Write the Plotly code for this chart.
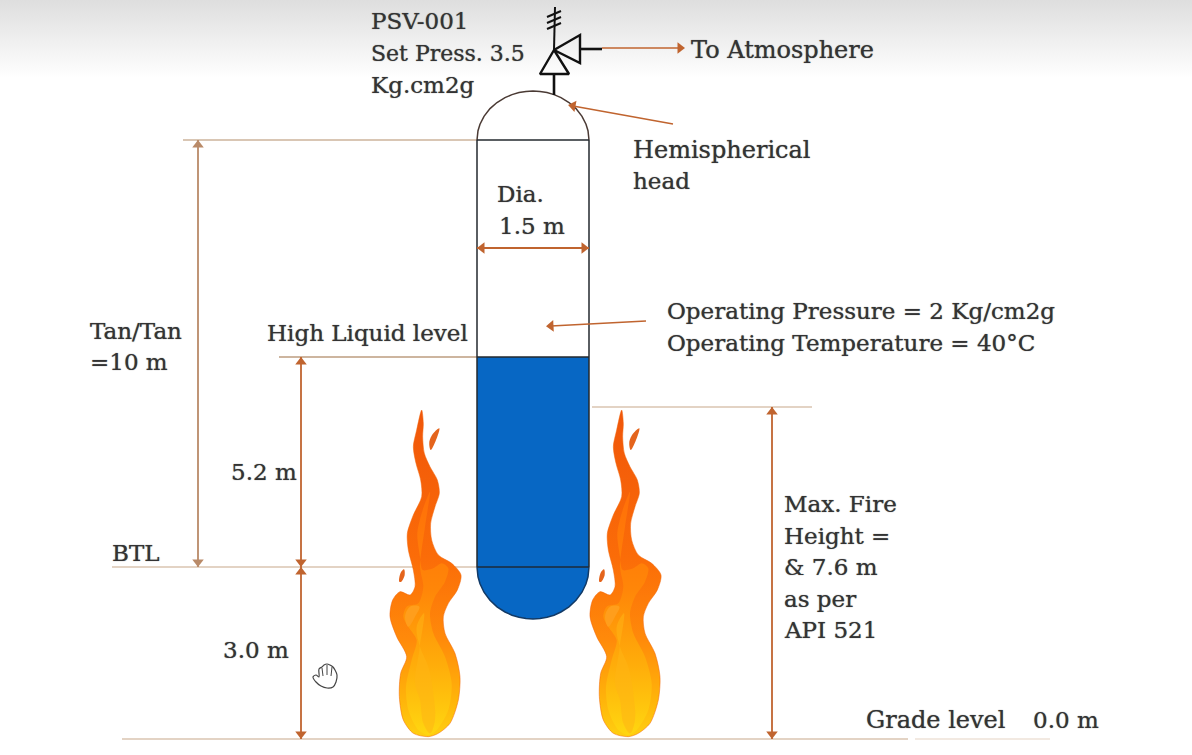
import numpy as np
import plotly.graph_objects as go

# everything is laid out on axes that run in picture pixels
W, H = 1192, 755
FONT = "DejaVu Serif"
TEXT_COL = "#333333"
DIM_COL = "#c0642f"
TAN_COL = "#e3d3c4"
VESSEL_COL = "#0767c4"

# vessel levels
vessel_left, vessel_right = 477, 589
head_top, tan_top, liquid_top, tan_bottom, head_bottom = 91, 140, 357, 567, 619
vessel_x = [589, 588, 586, 582, 576, 569, 561, 554, 547, 540, 533, 526, 519, 512, 505, 497, 490, 484, 480, 478, 477]
top_head_y = [140, 130.7, 124.2, 116.3, 108.6, 102.5, 97.6, 94.6, 92.6, 91.4, 91, 91.4, 92.6, 94.6, 97.6, 102.5, 108.6, 116.3, 124.2, 130.7, 140]
bottom_head_y = [567, 576.8, 583.8, 592.2, 600.3, 606.8, 612, 615.2, 617.3, 618.6, 619, 618.6, 617.3, 615.2, 612, 606.8, 600.3, 592.2, 583.8, 576.8, 567]

# reference lines (x0, x1, y, colour)
ref_lines = [
    (183, 477, 140, "#d9c6b4"),
    (279, 477, 357, "#cdb59f"),
    (592, 812, 407, TAN_COL),
    (112, 477, 567, TAN_COL),
    (122, 908, 739, TAN_COL),
    (915, 1050, 739, "#f2e9e1"),
]

# dimension arrows (x0, y0, x1, y1, colour)
dim_arrows = [
    (198, 140, 198, 567, "#b98a68"),
    (301, 357, 301, 567, DIM_COL),
    (301, 567, 301, 739, DIM_COL),
    (772, 407, 772, 739, DIM_COL),
    (477, 248, 589, 248, DIM_COL),
]
# leader arrows, the head sits on the first point only
leaders = [
    (551, 326, 646, 321),
    (573, 106, 673, 124),
    (680, 48, 602, 48),
]

# relief valve symbol
valve_lower_x, valve_lower_y = [554, 540, 569, 554], [50, 74, 74, 50]
valve_side_x, valve_side_y = [554, 580, 580, 554], [50, 35, 63, 50]
valve_stem_x, valve_stem_y = [554, 554], [75, 95]
spring_x, spring_y = [555, 554], [7, 50]
spring_bars = [(547, 17, 561, 11), (547, 23, 561, 17), (547, 29, 561, 23)]
outlet_x, outlet_y = [580, 602], [49, 49]

flame_outer_x = [125, 130, 128, 133, 150, 172, 178, 165, 152, 155, 175, 215, 243, 232, 205, 190, 195, 225, 240, 235, 210, 175, 145, 100, 70, 58, 62, 80, 50, 30, 38, 60, 90, 105, 100, 85, 82, 100, 125, 122, 108, 100, 110, 125]
flame_outer_y = [30, 70, 110, 160, 200, 240, 280, 320, 370, 420, 465, 490, 525, 570, 610, 650, 700, 760, 830, 900, 970, 1000, 1010, 1000, 960, 890, 820, 770, 710, 650, 600, 575, 585, 560, 510, 450, 400, 345, 290, 240, 190, 140, 90, 30]
flame_mid_x = [150, 128, 112, 120, 128, 160, 185, 205, 195, 165, 150, 160, 195, 215, 205, 170, 145, 115, 85, 78, 95, 110, 85, 70, 80, 115, 130, 120, 135, 150]
flame_mid_y = [275, 330, 400, 470, 510, 505, 490, 505, 545, 590, 640, 700, 770, 850, 930, 990, 1005, 990, 930, 860, 780, 720, 680, 650, 620, 610, 560, 500, 380, 275]
flame_core_x = [132, 110, 120, 145, 160, 165, 150, 130, 120, 105, 118, 132]
flame_core_y = [640, 680, 740, 800, 880, 960, 1000, 970, 900, 850, 750, 640]
blob_x, blob_y = [118, 90, 75, 85, 105, 118], [620, 620, 650, 680, 650, 620]
drop_a_x, drop_a_y = [178, 160, 148, 152, 168, 178], [85, 100, 125, 150, 120, 85]
drop_b_x, drop_b_y = [72, 62, 58, 64, 74, 72], [508, 518, 545, 545, 525, 508]
flame_offsets = [0, 200]

# hand cursor
hand_x = [313, 316, 319, 319, 322, 324, 327, 330, 333, 335, 337, 336, 333, 327, 321, 316, 313]
hand_y = [677, 675, 677, 669, 667, 665, 664, 665, 667, 670, 675, 682, 687, 688, 686, 682, 677]
finger_bars = [(322, 668, 323, 676), (327, 665, 327, 675), (332, 667, 331, 676)]

# labels (text, x, y)
left_labels = [
    ("PSV-001", 371, 21), ("Set Press. 3.5", 371, 53), ("Kg.cm2g", 371, 85),
    ("To Atmosphere", 691, 50),
    ("Hemispherical", 633, 150), ("head", 633, 181),
    ("Dia.", 497, 194), ("1.5 m", 499, 226),
    ("Operating Pressure = 2 Kg/cm2g", 667, 311),
    ("Operating Temperature = 40°C", 667, 343),
    ("High Liquid level", 267, 333),
    ("Tan/Tan", 90, 331), ("=10 m", 90, 362),
    ("5.2 m", 231, 472), ("BTL", 112, 553), ("3.0 m", 223, 650),
    ("Max. Fire", 784, 504), ("Height =", 784, 536), ("& 7.6 m", 784, 567),
    ("as per", 784, 599), ("API 521", 784, 630),
    ("Grade level", 866, 720), ("0.0 m", 1033, 720),
]
# a few labels run wider or narrower than the rest in the slide font
label_sizes = {"Set Press. 3.5": 22, "Grade level": 24, "To Atmosphere": 24, "Hemispherical": 24}

fig = go.Figure()


def line(x, y, color, width=1.5, shape="linear"):
    fig.add_trace(go.Scatter(x=x, y=y, mode="lines", line=dict(color=color, width=width, shape=shape), hoverinfo="skip"))


def area(x, y, fill, color=None, width=0, shape="linear"):
    fig.add_trace(go.Scatter(x=x, y=y, mode="lines", fill="toself", fillcolor=fill,
                             line=dict(color=color or fill, width=width, shape=shape), hoverinfo="skip"))


def head(x, y, dx, dy, color):
    # triangle marker pointing along (dx, dy), y runs downwards on screen
    angle = float(np.degrees(np.arctan2(dx, -dy)))
    fig.add_trace(go.Scatter(x=[x], y=[y], mode="markers", hoverinfo="skip",
                             marker=dict(symbol="triangle-up", size=10, angle=angle, color=color, line=dict(width=0))))


def flame(dx):
    to_x = lambda v: np.array(v) / 3 + 380 + dx
    to_y = lambda v: np.array(v) / 3 + 400
    fig.add_trace(go.Scatter(
        x=to_x(flame_outer_x), y=to_y(flame_outer_y), mode="lines", hoverinfo="skip", fill="toself",
        line=dict(width=0.5, color="#f0640a", shape="spline", smoothing=0.8),
        fillgradient=dict(type="vertical", start=738, stop=410, colorscale=[
            [0, "#ffd010"], [0.12, "#ffb30a"], [0.3, "#ff8a0a"], [0.55, "#fb6c08"], [1, "#f0560a"]])))
    fig.add_trace(go.Scatter(
        x=to_x(flame_mid_x), y=to_y(flame_mid_y), mode="lines", hoverinfo="skip", fill="toself",
        line=dict(width=0, shape="spline", smoothing=0.8),
        fillgradient=dict(type="vertical", start=738, stop=490, colorscale=[
            [0, "#ffd810"], [0.3, "#ffac0a"], [0.6, "#ff8608"], [1, "#ff6e08"]])))
    area(to_x(flame_core_x), to_y(flame_core_y), "rgba(255,180,20,0.55)", shape="spline")
    area(to_x(blob_x), to_y(blob_y), "#ff9e1c", shape="spline")
    area(to_x(drop_a_x), to_y(drop_a_y), "#e4641c", shape="spline")
    area(to_x(drop_b_x), to_y(drop_b_y), "#e4641c", shape="spline")


# grey fade along the top of the slide
fig.add_trace(go.Scatter(
    x=[0, W, W, 0, 0], y=[0, 0, 78, 78, 0], mode="lines", fill="toself", line=dict(width=0), hoverinfo="skip",
    fillgradient=dict(type="vertical", start=78, stop=0, colorscale=[[0, "#ffffff"], [1, "#dedede"]])))

for x0, x1, y, col in ref_lines:
    line([x0, x1], [y, y], col, 2)

for off in flame_offsets:
    flame(off)

# vessel: liquid first, shell on top. vessel_x runs right to left along the head
liq_x = [vessel_right] + vessel_x + [vessel_left, vessel_right]
liq_y = [liquid_top] + bottom_head_y + [liquid_top, liquid_top]
area(liq_x, liq_y, VESSEL_COL)
line(vessel_x, top_head_y, "#4a3a34", 1.5)
line(vessel_x, bottom_head_y, "#123a66", 1.5)
line([vessel_left, vessel_left], [tan_top, tan_bottom], "#23282e", 1.5)
line([vessel_right, vessel_right], [tan_top, tan_bottom], "#23282e", 1.5)
line([vessel_left, vessel_right], [tan_top, tan_top], "#23282e", 1.5)
line([vessel_left, vessel_right], [liquid_top, liquid_top], "#23282e", 1.5)
line([vessel_left, vessel_right], [tan_bottom, tan_bottom], "#1c2a3a", 1.5)

for x0, y0, x1, y1, col in dim_arrows:
    line([x0, x1], [y0, y1], col, 1.8)
    dx, dy = np.sign(x1 - x0), np.sign(y1 - y0)
    head(x0 + dx * 5, y0 + dy * 5, -dx, -dy, col)
    head(x1 - dx * 5, y1 - dy * 5, dx, dy, col)

for x0, y0, x1, y1 in leaders:
    line([x0, x1], [y0, y1], DIM_COL, 1.5)
    head(x0, y0, x0 - x1, y0 - y1, DIM_COL)

line(valve_lower_x, valve_lower_y, "#111111", 2.4)
line(valve_side_x, valve_side_y, "#111111", 2.4)
line(valve_stem_x, valve_stem_y, "#111111", 2.6)
line(spring_x, spring_y, "#111111", 2)
line(outlet_x, outlet_y, "#111111", 2.6)
for x0, y0, x1, y1 in spring_bars:
    line([x0, x1], [y0, y1], "#111111", 2)

area(hand_x, hand_y, "#ffffff", "#444444", 1.2, "spline")
for x0, y0, x1, y1 in finger_bars:
    line([x0, x1], [y0, y1], "#444444", 1)

for text, x, y in left_labels:
    fig.add_annotation(x=x - 2, y=y, text=text, showarrow=False, xanchor="left", yanchor="middle",
                       font=dict(family=FONT, size=label_sizes.get(text, 23), color=TEXT_COL, shadow="0 0 1px #666666"))

fig.update_layout(
    width=W, height=H, margin=dict(l=0, r=0, t=0, b=0), showlegend=False,
    paper_bgcolor="white", plot_bgcolor="white",
    xaxis=dict(range=[0, W], visible=False, fixedrange=True),
    yaxis=dict(range=[H, 0], visible=False, fixedrange=True),
)
# the page's default body margin would push the figure 8px in
fig.write_html("out.html", config=dict(displayModeBar=False),
               post_script="document.body.style.margin='0';document.body.style.overflow='hidden';")
